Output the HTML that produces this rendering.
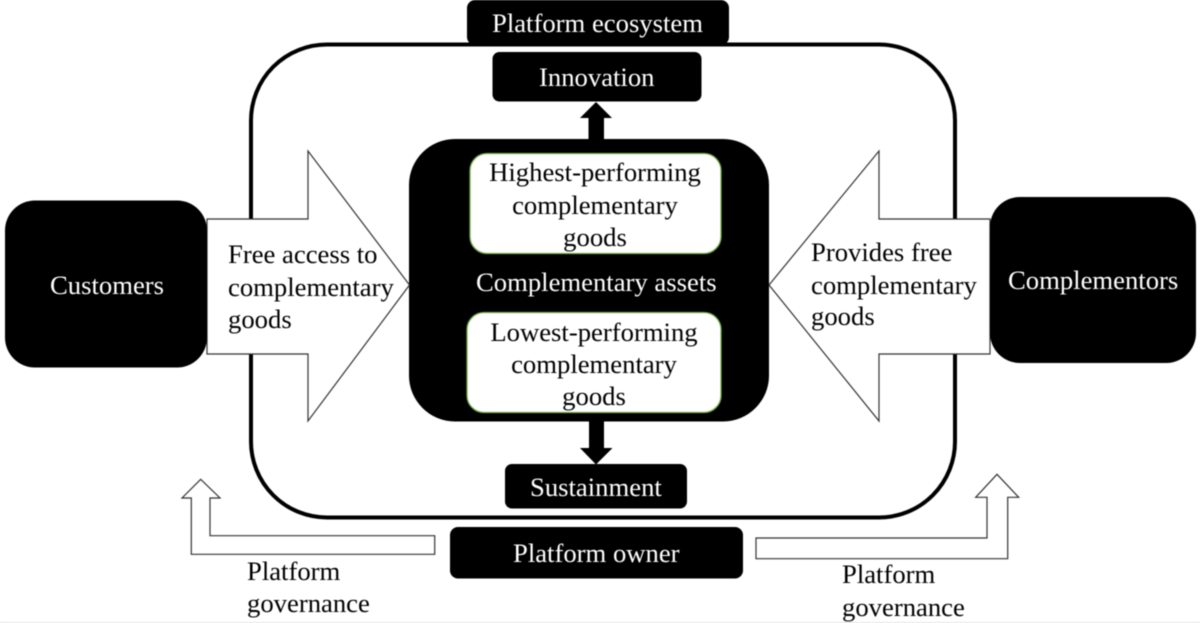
<!DOCTYPE html>
<html><head><meta charset="utf-8"><style>
html,body{margin:0;padding:0;background:#fff;width:1200px;height:623px;overflow:hidden}
svg{display:block;filter:blur(.45px)}
text{font-family:"Liberation Serif",serif;font-size:26.67px;fill:#000}
.w{fill:#fff}
.m{text-anchor:middle}
</style></head><body>
<svg width="1200" height="623" viewBox="0 0 1200 623" xmlns="http://www.w3.org/2000/svg">
<rect width="1200" height="623" fill="#fff"/>
<rect x="0" y="622" width="1200" height="1" fill="#e4e4e4"/>
<rect x="251" y="44.500" width="704" height="473" rx="76" fill="#fff" stroke="#000" stroke-width="4"/>
<rect x="467" y="0" width="262" height="45" rx="8" fill="#000"/>
<rect x="492.500" y="52" width="209" height="49.500" rx="7" fill="#000"/>
<polygon points="596,102 612,118 604,118 604,140 588.500,140 588.500,118 580,118" fill="#000"/>
<polygon points="589,420 604,420 604,448 612.500,448 596,464.500 580,448 589,448" fill="#000"/>
<rect x="409" y="139" width="360" height="282.500" rx="46" fill="#000"/>
<rect x="470" y="153.500" width="251" height="100" rx="17" fill="#fff" stroke="#70ad47" stroke-width="1.300"/>
<rect x="467" y="312.500" width="254" height="100" rx="17" fill="#fff" stroke="#70ad47" stroke-width="1.300"/>
<rect x="505" y="464" width="182" height="44.500" rx="7" fill="#000"/>
<rect x="450" y="527" width="293" height="51.500" rx="8" fill="#000"/>
<polygon points="207,219 308,219 308,151 409.500,285 308,421 308,354 207,354" fill="#fff" stroke="#333" stroke-width="1.200"/>
<polygon points="990,219 879,219 879,151 769,285 879,421 879,354 990,354" fill="#fff" stroke="#333" stroke-width="1.200"/>
<rect x="5" y="200.500" width="202" height="167" rx="30" fill="#000"/>
<rect x="990" y="197" width="206" height="166" rx="30" fill="#000"/>
<polygon points="434.700,535.700 210,535.700 210,498 220,498 200.700,479.300 182,498 191.300,498 191.300,554.300 434.700,554.300" fill="#fff" stroke="#333" stroke-width="1.200"/>
<polygon points="756,538 987,538 987,497.300 975.700,497.300 997,474.300 1018.700,497.300 1007.700,497.300 1007.700,558.700 756,558.700" fill="#fff" stroke="#333" stroke-width="1.200"/>
<text class="w" x="492" y="32">Platform ecosystem</text>
<text class="w" x="539" y="86">Innovation</text>
<text class="m" x="595" y="181">Highest-performing</text>
<text class="m" x="595" y="214">complementary</text>
<text class="m" x="595" y="246">goods</text>
<text class="w" x="476" y="291">Complementary assets</text>
<text class="m" x="594" y="341">Lowest-performing</text>
<text class="m" x="594" y="373">complementary</text>
<text class="m" x="594" y="405">goods</text>
<text class="w" x="530" y="496">Sustainment</text>
<text class="w" x="513" y="562">Platform owner</text>
<text class="w" x="50" y="294">Customers</text>
<text class="w" x="1008" y="289">Complementors</text>
<text x="228" y="263">Free access to</text>
<text x="228" y="296">complementary</text>
<text x="228" y="328">goods</text>
<text x="811" y="261">Provides free</text>
<text x="811" y="294">complementary</text>
<text x="811" y="325">goods</text>
<text x="247" y="580">Platform</text>
<text x="247" y="612">governance</text>
<text x="842" y="583">Platform</text>
<text x="842" y="616">governance</text>
</svg>
</body></html>
